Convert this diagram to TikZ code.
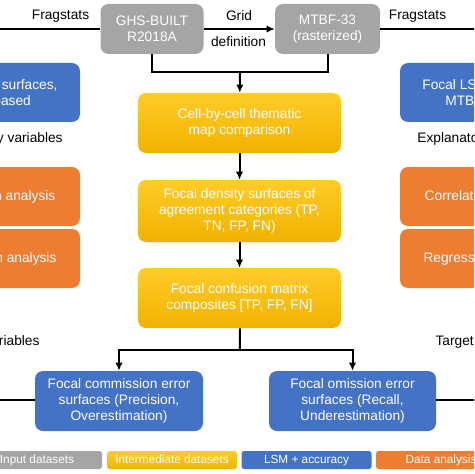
\documentclass[tikz,border=0pt]{standalone}
\usepackage{fontspec}
\setmainfont{Liberation Sans}
\usetikzlibrary{arrows.meta}
\definecolor{input_gray}{RGB}{165,165,165}
\definecolor{mid_yellow}{RGB}{255,204,40}
\definecolor{mid_yellow_dark}{RGB}{240,178,0}
\definecolor{lsm_blue}{RGB}{68,114,196}
\definecolor{data_orange}{RGB}{237,125,49}

\tikzset{
	box/.style={rounded corners=6pt,text=white,align=center,inner sep=0pt,font=\fontsize{10.3}{12}\selectfont},
	inputbox/.style={box,fill=input_gray,minimum height=37.5pt},
	midbox/.style={box,top color=mid_yellow,bottom color=mid_yellow_dark,minimum width=152.25pt,minimum height=45pt},
	lsmbox/.style={box,fill=lsm_blue,minimum width=127.5pt,minimum height=44.25pt},
	databox/.style={box,fill=data_orange,minimum width=127.5pt,minimum height=44.25pt},
	lbl/.style={font=\fontsize{10.3}{12}\selectfont,inner sep=0pt},
	key/.style={rounded corners=2pt,text=white,inner sep=0pt,minimum width=97.5pt,minimum height=13.5pt,text height=6.6pt,text depth=1.6pt,font=\fontsize{8.85}{10}\selectfont},
	line/.style={black,line width=1.5pt},
	arrow/.style={line,-{Latex[length=6pt,width=5.5pt]}}
}

\begin{document}
\begin{tikzpicture}[x=0.75pt,y=-0.75pt]
	\useasboundingbox (0,0) rectangle (474,474);
	\clip (0,0) rectangle (474,474);

	\node[inputbox,minimum width=77.25pt] (ghs) at (152,29) {GHS-BUILT\\R2018A};
	\node[inputbox,minimum width=78.75pt] (mtbf) at (327.5,29) {MTBF-33\\(rasterized)};

	\node[midbox] (cell) at (239.5,123) {Cell-by-cell thematic\\map comparison};
	\node[midbox,minimum height=46.5pt] (dens) at (239.5,211) {Focal density surfaces of\\agreement categories (TP,\\TN, FP, FN)};
	\node[midbox] (conf) at (239.5,298) {Focal confusion matrix\\composites [TP, FP, FN]};

	\node[lsmbox,minimum width=126pt,minimum height=45pt] (comm) at (119,401) {Focal commission error\\surfaces (Precision,\\Overestimation)};
	\node[lsmbox,minimum width=125.25pt,minimum height=45pt] (omis) at (352.5,401) {Focal omission error\\surfaces (Recall,\\Underestimation)};

	\node[lsmbox] (lsm_ghs) at (-5,92.5) {Focal LSM surfaces,\\GHS-based};
	\node[lsmbox] (lsm_mtbf) at (485,92.5) {Focal LSM surfaces,\\MTBF-based};
	\node[databox] (corr_ghs) at (-5,196.5) {Correlation analysis};
	\node[databox] (regr_ghs) at (-5,258.5) {Regression analysis};
	\node[databox] (corr_mtbf) at (485,196.5) {Correlation analysis};
	\node[databox] (regr_mtbf) at (485,258.5) {Regression analysis};

	\node[lbl] (frag_l) at (60.5,16) {Fragstats};
	\node[lbl] (frag_r) at (417.5,16) {Fragstats};
	\node[lbl] (grid) at (239,16) {Grid};
	\node[lbl] (gdef) at (238.5,42) {definition};
	\node[lbl] (expl_l) at (-3,139) {Explanatory variables};
	\node[lbl] (expl_r) at (483,139) {Explanatory variables};
	\node[lbl] (targ_l) at (-9,342) {Target variables};
	\node[lbl] (targ_r) at (484,342) {Target variables};

	\node[key,fill=input_gray] (k1) at (37,460) {Input datasets};
	\node[key,top color=mid_yellow,bottom color=mid_yellow_dark] (k2) at (172,460) {Intermediate datasets};
	\node[key,fill=lsm_blue] (k3) at (306.5,460) {LSM + accuracy};
	\node[key,fill=data_orange] (k4) at (441,460) {Data analysis};

	\coordinate (out_l) at (-100,29);
	\coordinate (out_r) at (574,29);
	\coordinate (join) at (240,72.5);
	\coordinate (split) at (240,350);
	\coordinate (err_l) at (-100,400);
	\coordinate (err_r) at (574,400);

	\draw[line] (ghs.west) -- (out_l);
	\draw[line] (mtbf.east) -- (out_r);
	\draw[arrow] (ghs.east) -- (mtbf.west);
	\draw[line] (ghs.south) |- (join);
	\draw[line] (mtbf.south) |- (join);
	\foreach \x/\y in {join/cell,cell/dens,dens/conf}
		\draw[arrow] (\x) -- (\y);
	\draw[line] (conf) -- (split);
	\draw[arrow] (split) -| (comm);
	\draw[arrow] (split) -| (omis);
	\draw[line] (comm.west |- err_l) -- (err_l);
	\draw[line] (omis.east |- err_r) -- (err_r);
\end{tikzpicture}
\end{document}
